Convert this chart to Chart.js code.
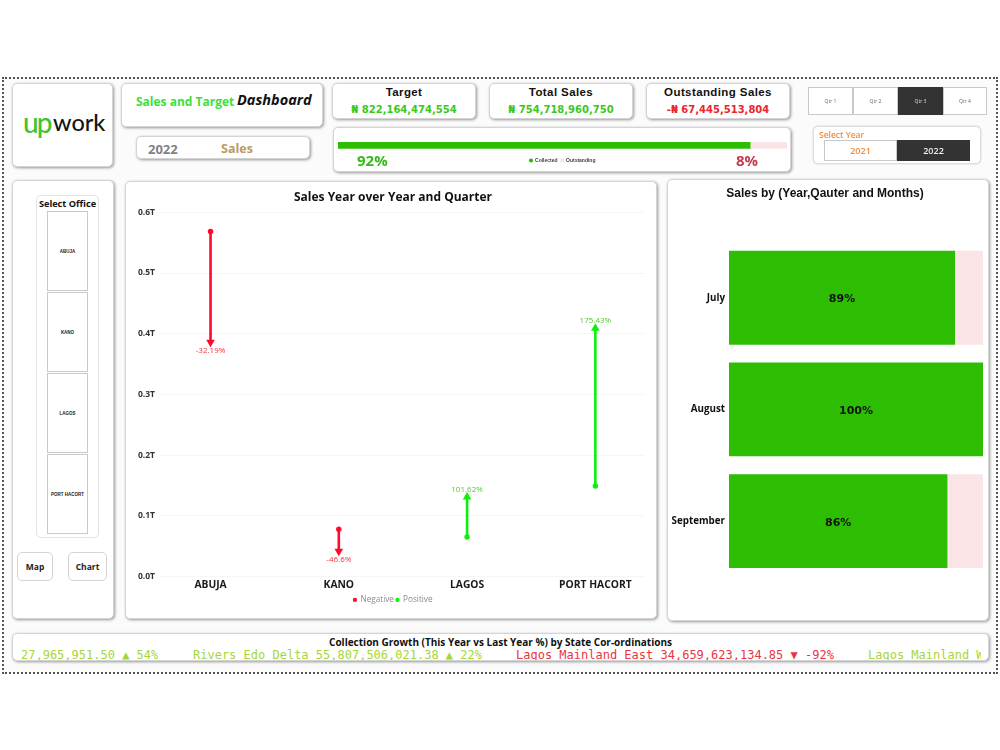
<!DOCTYPE html>
<html><head><meta charset="utf-8">
<script src="https://cdn.jsdelivr.net/npm/chart.js@4"></script>
<style>
html,body{margin:0;padding:0;background:#fff;width:1000px;height:750px;overflow:hidden;font-family:"Open Sans",sans-serif}
#frame{position:absolute;left:2px;top:77px;width:992px;height:593px;border:2px dotted #555;background:#fbfbfb;box-sizing:content-box}
.c{position:absolute;background:#fff;border:1px solid #d4d4d4;border-radius:5px;box-shadow:1px 1px 3px rgba(0,0,0,.4);box-sizing:border-box}
.t{position:absolute;white-space:nowrap;line-height:1}
.kt{font:bold 11.5px "Liberation Sans",sans-serif;letter-spacing:.4px;color:#111;width:100%;left:0;text-align:center;top:2px}
.kv{font:bold 10px "DejaVu Sans",sans-serif;width:100%;left:0;text-align:center;top:20px}
.b{position:absolute;background:#fff;border:1px solid #c9c9c9;box-sizing:border-box;display:flex;align-items:center;justify-content:center;color:#666}
canvas{position:absolute}
</style></head><body>
<div id="frame"></div>

<div class="c" style="left:12px;top:83px;width:101px;height:84px">
  <div class="t" style="left:10px;top:21px;font:500 28px Lato,sans-serif;letter-spacing:-2px;color:#3fc42f">up</div>
  <div class="t" style="left:40px;top:24px;font:500 23.5px Lato,sans-serif;color:#151515">work</div>
</div>
<div class="c" style="left:121px;top:83px;width:202px;height:44px">
  <div class="t" style="left:14px;top:9px;font:bold 12px 'Open Sans',sans-serif;color:#3de03a">Sales and Target</div>
  <div class="t" style="left:115px;top:6px;font:italic bold 14.5px 'Open Sans',sans-serif;color:#111">Dashboard</div>
</div>
<div class="c" style="left:136px;top:136px;width:174px;height:23px">
  <div class="t" style="left:11px;top:3px;font:bold 13px 'Open Sans',sans-serif;color:#7f7f85">2022</div>
  <div class="t" style="left:84px;top:3px;font:bold 12.5px 'Open Sans',sans-serif;color:#bc9a62">Sales</div>
</div>

<div class="c" style="left:332px;top:83px;width:144px;height:36px"><div class="t kt">Target</div><div class="t kv" style="color:#3bc81e">₦ 822,164,474,554</div></div>
<div class="c" style="left:489px;top:83px;width:144px;height:36px"><div class="t kt">Total Sales</div><div class="t kv" style="color:#3bc81e">₦ 754,718,960,750</div></div>
<div class="c" style="left:646px;top:83px;width:144px;height:36px"><div class="t kt">Outstanding Sales</div><div class="t kv" style="color:#e8262c">-₦ 67,445,513,804</div></div>

<div class="c" style="left:333px;top:127px;width:458px;height:45px"></div>
<canvas id="prog" style="left:333px;top:128px"></canvas>
<div class="t" style="left:357px;top:150px;font:bold 15px 'Open Sans',sans-serif;color:#33bb14">92%</div>
<div class="t" style="left:736px;top:150px;font:bold 15px 'Open Sans',sans-serif;color:#c43c4c">8%</div>

<div class="b" style="left:808px;top:87px;width:45px;height:28px;font-size:5px">Qtr 1</div>
<div class="b" style="left:853px;top:87px;width:45px;height:28px;font-size:5px">Qtr 2</div>
<div class="b" style="left:898px;top:87px;width:45px;height:28px;font-size:5px;background:#333;color:#ddd;border-color:#333">Qtr 3</div>
<div class="b" style="left:943px;top:87px;width:44px;height:28px;font-size:5px">Qtr 4</div>

<div class="c" style="left:813px;top:126px;width:168px;height:38px;box-shadow:0 0 2px rgba(0,0,0,.2);border-color:#ddd">
  <div class="t" style="left:5px;top:2px;font:600 8.5px 'Open Sans',sans-serif;color:#ef8c3a">Select Year</div>
</div>
<div class="b" style="left:824px;top:140px;width:73px;height:21px;font:600 9px 'Open Sans';color:#ef8c3a">2021</div>
<div class="b" style="left:897px;top:140px;width:73px;height:21px;font:600 9px 'Open Sans';background:#333;color:#eee;border-color:#333">2022</div>

<div class="c" style="left:12px;top:180px;width:102px;height:439px"></div>
<div class="c" style="left:36px;top:195px;width:63px;height:343px;box-shadow:none;border-color:#e2e2e2">
  <div class="t" style="left:0;width:100%;text-align:center;top:1px;font:bold 9.2px 'Open Sans',sans-serif;color:#111">Select Office</div>
</div>
<div class="b" style="left:47px;top:211px;width:41px;height:80px;font:bold 4.5px 'Liberation Sans';color:#222">ABUJA</div>
<div class="b" style="left:47px;top:292px;width:41px;height:80px;font:bold 4.5px 'Liberation Sans';color:#222">KANO</div>
<div class="b" style="left:47px;top:373px;width:41px;height:80px;font:bold 4.5px 'Liberation Sans';color:#222">LAGOS</div>
<div class="b" style="left:47px;top:454px;width:41px;height:80px;font:bold 4.5px 'Liberation Sans';color:#222">PORT HACORT</div>
<div class="c" style="left:17px;top:552px;width:36px;height:29px;box-shadow:none;display:flex;align-items:center;justify-content:center;font:bold 8.5px 'Open Sans';color:#222">Map</div>
<div class="c" style="left:68px;top:552px;width:39px;height:29px;box-shadow:none;display:flex;align-items:center;justify-content:center;font:bold 8.5px 'Open Sans';color:#222">Chart</div>

<div class="c" style="left:125px;top:181px;width:532px;height:438px"></div>
<canvas id="main" style="left:125px;top:181px"></canvas>
<div class="c" style="left:667px;top:179px;width:322px;height:442px"></div>
<canvas id="months" style="left:667px;top:179px"></canvas>

<div class="c" style="left:12px;top:633px;width:977px;height:28px">
  <div class="t" style="left:0;width:100%;text-align:center;top:1px;font:bold 10px 'Open Sans',sans-serif;color:#111">Collection Growth (This Year vs Last Year %) by State Cor-ordinations</div>
  <div style="position:absolute;left:0;top:0;width:968px;height:100%;overflow:hidden;font:12px 'DejaVu Sans Mono',monospace">
    <div class="t" style="left:8px;top:15px;color:#a6d637">27,965,951.50 ▲ 54%</div>
    <div class="t" style="left:180px;top:15px;color:#a6d637">Rivers Edo Delta 55,807,506,021.38 ▲ 22%</div>
    <div class="t" style="left:503px;top:15px;color:#ea3440">Lagos Mainland East 34,659,623,134.85 ▼ -92%</div>
    <div class="t" style="left:855px;top:15px;color:#a6d637">Lagos Mainland West</div>
  </div>
</div>

<script>
const offices = ["ABUJA","KANO","LAGOS","PORT HACORT"];
const lastYear = [0.5686,0.0777,0.065,0.149];
const thisYear = [0.386,0.0415,0.131,0.409];
const growth = ["-32.19%","-46.6%","101.62%","175.43%"];
const yTicks = [0,0.1,0.2,0.3,0.4,0.5,0.6];
const months = ["July","August","September"];
const collectedPct = [89,100,86];
const outstandingPct = [11,0,14];
const monthLabels = ["89%","100%","86%"];
const collected = [754718960750];
const outstanding = [67445513804];

const RED="#ff0a2a", LIME="#0cf00c", GREEN="#2dbe04", PINK="#fbe4e6";
function arrows(sign){
  const out=[];
  offices.forEach((o,i)=>{
    if(Math.sign(thisYear[i]-lastYear[i])!==sign) return;
    if(out.length) out.push({x:i-.5,y:null});
    out.push({x:i,y:lastYear[i]},{x:i,y:thisYear[i]});
  });
  return out;
}
const dsOpts=(label,color,rot)=>({label,borderColor:color,backgroundColor:color,borderWidth:2.6,showLine:true,spanGaps:false,tension:0,
  pointStyle:c=>c.dataIndex%3===0?'circle':'triangle',
  pointRadius:c=>c.dataIndex%3===0?2.7:5,
  pointHoverRadius:c=>c.dataIndex%3===0?2.7:5,
  pointRotation:c=>c.dataIndex%3===0?0:rot,pointBorderWidth:0});

const growthLabels={id:'growthLabels',
 afterLayout(ch){ch.titleBlock.left+=16;ch.legend.left+=16;},
 afterDatasetsDraw(ch){
  const g=ch.ctx;g.save();g.font='8px "Open Sans"';g.textAlign='center';g.textBaseline='middle';
  offices.forEach((o,i)=>{
    const up=thisYear[i]>lastYear[i];
    g.fillStyle=up?'#5cc832':'#f8303f';
    g.fillText(growth[i],ch.scales.x.getPixelForValue(i),ch.scales.y.getPixelForValue(thisYear[i])+(up?-7.5:8.5));
  });g.restore();
}};
function size(id,w,h){const e=document.getElementById(id);e.width=w;e.height=h;e.style.width=w+'px';e.style.height=h+'px';return e;}

new Chart(size('main',532,438),{type:'scatter',
 data:{datasets:[dsOpts('Negative',RED,180),dsOpts('Positive',LIME,0)].map((d,k)=>({...d,data:arrows(k?1:-1)}))},
 plugins:[growthLabels],
 options:{responsive:false,animation:false,
  layout:{padding:{left:0,right:12,top:9,bottom:5}},
  plugins:{tooltip:{enabled:false},
   title:{display:true,text:'Sales Year over Year and Quarter',color:'#111',font:{family:'Open Sans',size:12,weight:'bold'},padding:{top:0,bottom:8}},
   legend:{position:'bottom',labels:{usePointStyle:true,boxWidth:3,boxHeight:3,padding:2,color:'#8a8a92',font:{family:'Open Sans',size:8.2}}}},
  scales:{
   x:{type:'linear',min:-0.394,max:3.387,grid:{display:false,drawTicks:false},border:{display:false},
      afterBuildTicks:s=>{s.ticks=offices.map((o,i)=>({value:i}));},
      ticks:{autoSkip:false,maxRotation:0,padding:2.5,color:'#1a1a1a',font:{family:'Open Sans',size:10.3,weight:'bold'},callback:v=>offices[v]}},
   y:{min:0,max:0.6,afterFit:s=>{s.width=35;},grid:{color:'#f6f6f6',drawTicks:false},border:{display:false},
      afterBuildTicks:s=>{s.ticks=yTicks.map(v=>({value:v}));},
      ticks:{padding:5,color:'#333',font:{family:'Open Sans',size:8.5,weight:'bold'},callback:v=>v.toFixed(1)+'T'}}
  }}});

const monthText={id:'monthText',afterDatasetsDraw(ch){
  const g=ch.ctx;g.save();g.font='bold 11px "DejaVu Sans"';g.fillStyle='#111';g.textAlign='center';g.textBaseline='middle';
  months.forEach((m,i)=>{const x0=ch.scales.x.getPixelForValue(0),x1=ch.scales.x.getPixelForValue(collectedPct[i]);
    g.fillText(monthLabels[i],(x0+x1)/2,ch.scales.y.getPixelForValue(i)+1.5);});g.restore();
}};
new Chart(size('months',322,442),{type:'bar',
 data:{labels:months,datasets:[
  {label:'Collected',data:collectedPct,backgroundColor:GREEN,stack:'a',barPercentage:.84,categoryPercentage:1},
  {label:'Outstanding',data:outstandingPct,backgroundColor:PINK,stack:'a',barPercentage:.84,categoryPercentage:1}]},
 plugins:[monthText],
 options:{indexAxis:'y',responsive:false,animation:false,
  layout:{padding:{left:0,right:6,top:0,bottom:44}},
  plugins:{tooltip:{enabled:false},legend:{display:false},
   title:{display:true,text:'Sales by (Year,Qauter and Months)',color:'#111',align:'center',font:{family:'Liberation Sans',size:12,weight:'bold'},padding:{top:7,bottom:41.5}}},
  scales:{
   x:{display:false,stacked:true,min:0,max:100},
   y:{stacked:true,afterFit:s=>{s.width=62;},grid:{display:false,drawTicks:false},border:{display:false},
      ticks:{padding:4,color:'#111',font:{family:'Open Sans',size:9.8,weight:'bold'}}}
  }}});

new Chart(size('prog',458,45),{type:'bar',
 data:{labels:['Sales'],datasets:[
  {label:'Collected',data:collected,backgroundColor:GREEN,stack:'a',barThickness:6},
  {label:'Outstanding',data:outstanding,backgroundColor:PINK,stack:'a',barThickness:6}]},
 options:{indexAxis:'y',responsive:false,animation:false,
  layout:{padding:{left:5,right:4,top:7.7,bottom:0}},
  plugins:{tooltip:{enabled:false},legend:{position:'bottom',labels:{usePointStyle:true,boxWidth:3,boxHeight:3,padding:3,color:'#444',font:{family:'Liberation Sans',size:5,weight:'bold'}}}},
  scales:{x:{display:false,stacked:true,min:0,max:collected[0]+outstanding[0]},y:{display:false,stacked:true}}
 }});
</script>
</body></html>
